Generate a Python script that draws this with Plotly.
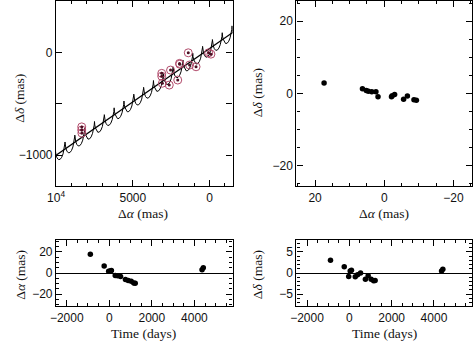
import numpy as np
import plotly.graph_objects as go

# ---------------- data ----------------
# Top-left: observed positions (mas)
OBS_RA = [8330, 8330, 8320, 3120, 3120, 3080, 2630, 2545, 2077, 1960, 1945, 1391, 1308, 885, 64, -83]
OBS_DEC = [-725, -755, -785, -204, -232, -300, -318, -172, -269, -107, -115, -4, -123, -140, -4, -17]

# Top-left: proper-motion line end points (mas)
PM_RA = [10000, -1500]
PM_DEC = [-1000, 194]

# Top-left: parallax wiggle - cusp positions along RA (mas) and one-cycle template
CUSP_RA = [10700, 10060, 9420, 8780, 8140, 7500, 6860, 6220, 5580, 4940, 4300,
           3660, 3020, 2380, 1740, 1100, 460, -180, -820, -1460]
CYCLE_PERIOD = 640
CYCLE_FRAC = [0, 0.0038, 0.0288, 0.0908, 0.1955, 0.3371, 0.5, 0.6629, 0.8045, 0.9092, 0.9712, 0.9962, 1.0]
CYCLE_DDEC = [68, 59, 34, 0, -34, -59, -68, -59, -34, 0, 34, 59, 68]

# Top-right: residuals on sky (mas)
RES2D_RA = [17.4, 6.3, 5.2, 4.6, 3.6, 2.4, 1.8, -2.1, -2.3, -3.0, -5.6, -6.7, -8.6, -9.3]
RES2D_DEC = [2.9, 1.3, 0.8, 0.65, 0.5, 0.5, -0.9, -0.9, -0.6, -0.3, -1.6, -0.7, -1.7, -1.9]

# Bottom: residuals versus time
T_DAYS = [-890, -240, -30, 40, 100, 280, 390, 530, 760, 890, 1030, 1150, 1220, 4360, 4420]
RES_RA = [17.6, 6.5, 1.6, 1.9, 2.3, -2.3, -2.6, -3.4, -6.0, -7.0, -7.8, -9.3, -9.6, 3.0, 5.0]
RES_DEC = [3.0, 1.45, -0.8, 0.5, 0.65, -0.9, -0.4, 0.0, -1.5, -0.65, -1.5, -1.85, -1.8, 0.5, 0.9]

# ---------------- build the wiggle curve from the template ----------------
wig_ra, wig_dec = [], []
slope = (PM_DEC[1] - PM_DEC[0]) / (PM_RA[1] - PM_RA[0])
for c in CUSP_RA:
    for f, d in zip(CYCLE_FRAC, CYCLE_DDEC):
        ra = c - f * CYCLE_PERIOD
        base = PM_DEC[0] + slope * (ra - PM_RA[0])
        wig_ra.append(ra)
        wig_dec.append(base + d)

W, H = 474, 341
def xd(a, b):
    return [a / W, b / W]
def yd(top, bot):
    return [1 - bot / H, 1 - top / H]

TICKFONT = dict(family="Liberation Sans, Arial, sans-serif", size=12, color="#111")
TITLEFONT = dict(family="Liberation Serif, Times New Roman, serif", size=13.5, color="#111")

fig = go.Figure()

# top-left
fig.add_trace(go.Scatter(x=PM_RA, y=PM_DEC, mode="lines", line=dict(color="black", width=1.3),
                         xaxis="x", yaxis="y", showlegend=False, hoverinfo="skip"))
fig.add_trace(go.Scatter(x=wig_ra, y=wig_dec, mode="lines", line=dict(color="black", width=1),
                         xaxis="x", yaxis="y", showlegend=False, hoverinfo="skip"))
fig.add_trace(go.Scatter(x=OBS_RA, y=OBS_DEC, mode="markers",
                         marker=dict(symbol="circle-open", size=8, color="#b24c6c", line=dict(width=1)),
                         xaxis="x", yaxis="y", showlegend=False))
fig.add_trace(go.Scatter(x=OBS_RA, y=OBS_DEC, mode="markers",
                         marker=dict(symbol="circle", size=3, color="#4b0f22"),
                         xaxis="x", yaxis="y", showlegend=False))
# top-right
fig.add_trace(go.Scatter(x=RES2D_RA, y=RES2D_DEC, mode="markers",
                         marker=dict(symbol="circle", size=5.5, color="black"),
                         xaxis="x2", yaxis="y2", showlegend=False))
# bottom-left
fig.add_trace(go.Scatter(x=T_DAYS, y=RES_RA, mode="markers",
                         marker=dict(symbol="circle", size=5.5, color="black"),
                         xaxis="x3", yaxis="y3", showlegend=False))
# bottom-right
fig.add_trace(go.Scatter(x=T_DAYS, y=RES_DEC, mode="markers",
                         marker=dict(symbol="circle", size=5.5, color="black"),
                         xaxis="x4", yaxis="y4", showlegend=False))

common = dict(showline=True, linecolor="black", linewidth=1.4, mirror="allticks",
              ticks="inside", ticklen=6, tickwidth=1, tickcolor="black",
              showgrid=False, zeroline=False, tickfont=TICKFONT)

def minor(dt, t0=0, ln=3):
    return dict(dtick=dt, tick0=t0, ticks="inside", ticklen=ln, tickwidth=1, tickcolor="black", showgrid=False)

fig.update_layout(
    width=W, height=H, margin=dict(l=0, r=0, t=0, b=0),
    paper_bgcolor="white", plot_bgcolor="white",
    xaxis=dict(domain=xd(48, 228), range=[10000, -1500], anchor="y",
               tickvals=[10000, 5000, 0], ticktext=["10<sup>4</sup>", "5000", "0"],
               minor=minor(1000), **common),
    yaxis=dict(domain=yd(1, 186), range=[-1300, 500], anchor="x",
               tickvals=[0, -1000], minor=dict(tickvals=[-500], ticks="inside", ticklen=6,
                                                tickwidth=1, tickcolor="black", showgrid=False),
               **common),
    xaxis2=dict(domain=xd(293, 472), range=[25.4, -25.4], anchor="y2",
                tickvals=[20, 0, -20], minor=minor(5), **common),
    yaxis2=dict(domain=yd(1, 186), range=[-25.6, 25.6], anchor="x2",
                tickvals=[20, 0, -20], minor=minor(5), **common),
    xaxis3=dict(domain=xd(48, 228), range=[-2500, 5800], anchor="y3",
                tickvals=[-2000, 0, 2000, 4000], minor=minor(500), **common),
    yaxis3=dict(domain=yd(240, 306), range=[-31, 31], anchor="x3",
                tickvals=[20, 0, -20], minor=minor(5), **common),
    xaxis4=dict(domain=xd(293, 472), range=[-2500, 5800], anchor="y4",
                tickvals=[-2000, 0, 2000, 4000], minor=minor(500), **common),
    yaxis4=dict(domain=yd(240, 306), range=[-7.8, 7.8], anchor="x4",
                tickvals=[5, 0, -5], minor=minor(1), **common),
)
fig.update_yaxes(zeroline=True, zerolinecolor="black", zerolinewidth=1, selector=dict(anchor="x3"))
fig.update_yaxes(zeroline=True, zerolinecolor="black", zerolinewidth=1, selector=dict(anchor="x4"))

def ann(text, x, y, angle=0):
    fig.add_annotation(text=text, x=x / W, y=1 - y / H, xref="paper", yref="paper",
                       showarrow=False, textangle=angle, font=TITLEFONT,
                       xanchor="center", yanchor="middle")

ann("\u0394<i>\u03b4</i> (mas)", 11, 98, -90)
ann("\u0394<i>\u03b1</i> (mas)", 137, 213)
ann("\u0394<i>\u03b4</i> (mas)", 253, 93, -90)
ann("\u0394<i>\u03b1</i> (mas)", 382, 213)
ann("\u0394<i>\u03b1</i> (mas)", 11, 275, -90)
ann("Time (days)", 137, 333)
ann("\u0394<i>\u03b4</i> (mas)", 253, 275, -90)
ann("Time (days)", 383, 333)

fig.write_html("out.html")
